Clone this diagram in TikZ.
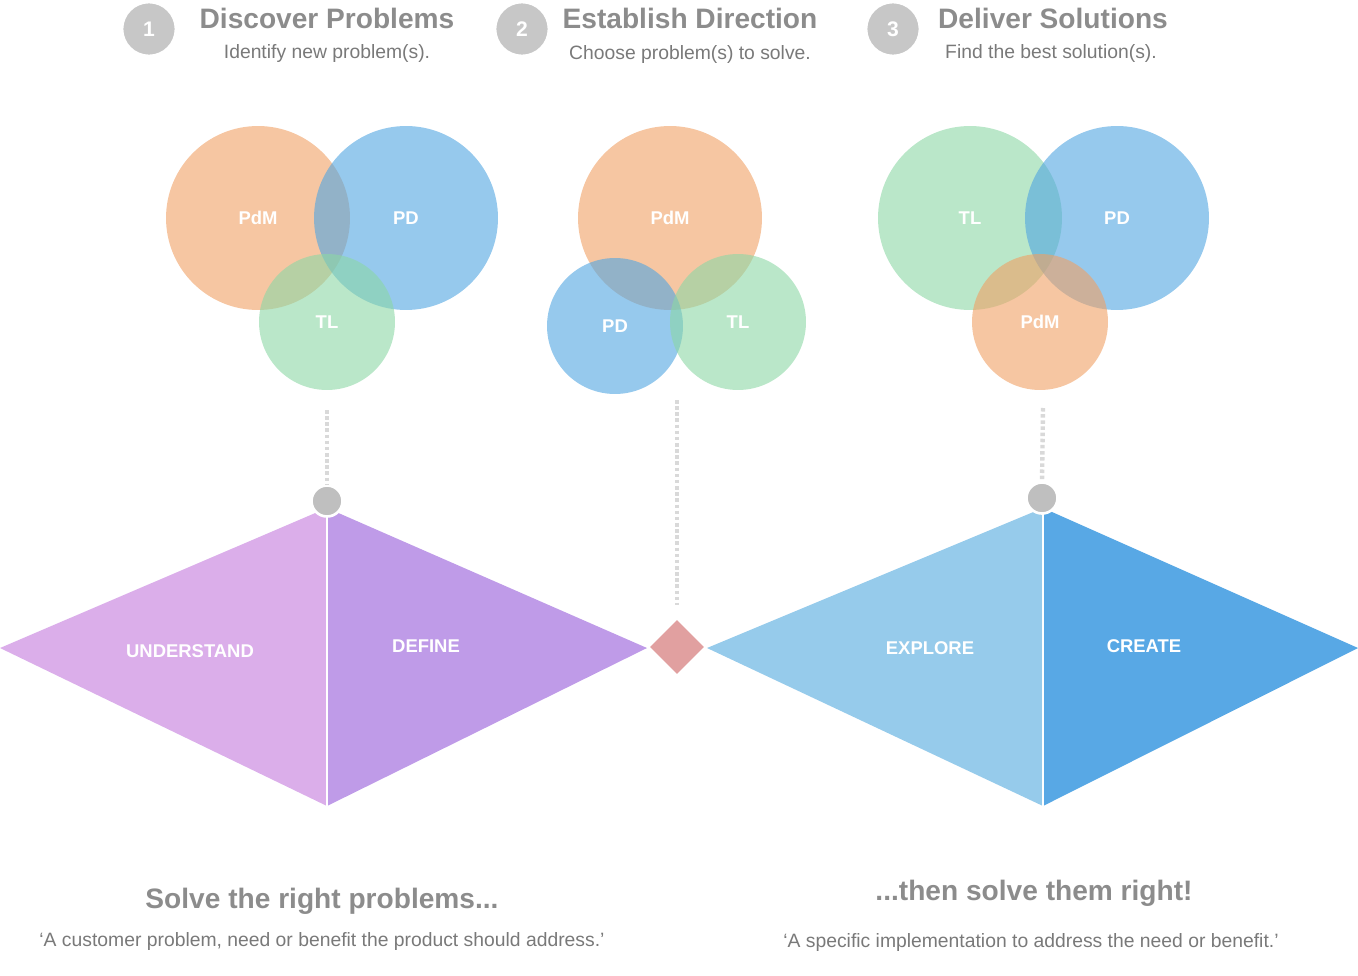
\documentclass[tikz,border=0pt]{standalone}
\usepackage{fontspec}
\usetikzlibrary{shapes.geometric}
\setmainfont{Liberation Sans}
\definecolor{corg}{RGB}{240,160,100}
\definecolor{cblu}{RGB}{80,165,225}
\definecolor{cgrn}{RGB}{140,215,165}
\definecolor{pl}{RGB}{219,174,234}
\definecolor{pr}{RGB}{191,155,232}
\definecolor{bl}{RGB}{150,203,235}
\definecolor{br}{RGB}{88,168,229}
\definecolor{cpink}{RGB}{225,160,160}
\begin{document}
\begin{tikzpicture}[x=0.02cm,y=-0.02cm,
  ttl/.style={font=\bfseries\fontsize{16}{18}\selectfont,text=gray!90},
  sub/.style={font=\fontsize{11}{13}\selectfont,text=gray!95!black},
  num/.style={circle,fill=black!22,draw=white,line width=1pt,minimum size=1.06cm,text=white,font=\bfseries\fontsize{12}{14}\selectfont,inner sep=0},
  vc/.style={circle,fill opacity=0.6,text opacity=1,text=white,font=\bfseries\fontsize{10.5}{12}\selectfont,inner sep=0},
  big/.style={vc,minimum size=3.68cm},
  sml/.style={vc,minimum size=2.72cm},
  org/.style={fill=corg},
  blu/.style={fill=cblu},
  grn/.style={fill=cgrn},
  dots/.style={draw=black!15,line width=2.5pt,dash pattern=on 2pt off 1.5pt},
  knob/.style={circle,fill=black!25,draw=white,line width=1.5pt,minimum size=0.62cm,inner sep=0},
  lab/.style={text=white,font=\bfseries\fontsize{10.5}{12}\selectfont},
  bt/.style={font=\bfseries\fontsize{16}{18}\selectfont,text=gray!90},
  qt/.style={font=\fontsize{11}{13}\selectfont,text=gray!95!black}]
\useasboundingbox (0,0) rectangle (1358,976);
% headers
\node[num] (n1) at (149,29) {1};
\node[ttl] (t1) at (327,18) {Discover Problems};
\node[sub] (s1) at (327,54) {Identify new problem(s).};
\node[num] (n2) at (522,29) {2};
\node[ttl] (t2) at (690,18) {Establish Direction};
\node[sub] (s2) at (690,55) {Choose problem(s) to solve.};
\node[num] (n3) at (893,29) {3};
\node[ttl] (t3) at (1053,18) {Deliver Solutions};
\node[sub] (s3) at (1051,54) {Find the best solution(s).};
% venn 1
\node[big,org] (a1) at (258,218) {PdM};
\node[big,blu] (a2) at (406,218) {PD};
\node[sml,grn] (a3) at (327,322) {TL};
% venn 2
\node[big,org] (b1) at (670,218) {PdM};
\node[sml,blu] (b2) at (615,326) {PD};
\node[sml,grn] (b3) at (738,322) {TL};
% venn 3
\node[big,grn] (c1) at (970,218) {TL};
\node[big,blu] (c2) at (1117,218) {PD};
\node[sml,org] (c3) at (1040,322) {PdM};
% diamonds
\fill[pl] (0,648) -- (327,508) -- (327,806) -- cycle;
\fill[pr] (327,508) -- (647,648) -- (327,806) -- cycle;
\draw[white,line width=1.5pt] (327,508) -- (327,806);
\fill[bl] (707,648) -- (1043,508) -- (1043,806) -- cycle;
\fill[br] (1043,508) -- (1358,648) -- (1043,806) -- cycle;
\draw[white,line width=1.5pt] (1043,508) -- (1043,806);
\node[lab] (l1) at (190,651) {UNDERSTAND};
\node[lab] (l2) at (426,646) {DEFINE};
\node[lab] (l3) at (930,648) {EXPLORE};
\node[lab] (l4) at (1144,646) {CREATE};
% connectors
\coordinate (d1) at (327,410);
\coordinate (d2) at (677,400);
\coordinate (d3) at (1043,408);
\coordinate (d2e) at (677,605);
\node[knob] (k1) at (327,501) {};
\node[knob] (k3) at (1042,498) {};
\node[diamond,fill=cpink,minimum size=1.08cm,inner sep=0] (dm) at (677,647) {};
\draw[dots] (d1) -- (k1.north);
\draw[dots] (d2) -- (d2e);
\draw[dots] (d3) -- (k3.north);
% bottom
\node[bt] (b1t) at (322,901) {Solve the right problems...};
\node[qt] (q1) at (322,941) {‘A customer problem, need or benefit the product should address.’};
\node[bt] (b2t) at (1034,893) {...then solve them right!};
\node[qt] (q2) at (1031,942) {‘A specific implementation to address the need or benefit.’};
\end{tikzpicture}
\end{document}
